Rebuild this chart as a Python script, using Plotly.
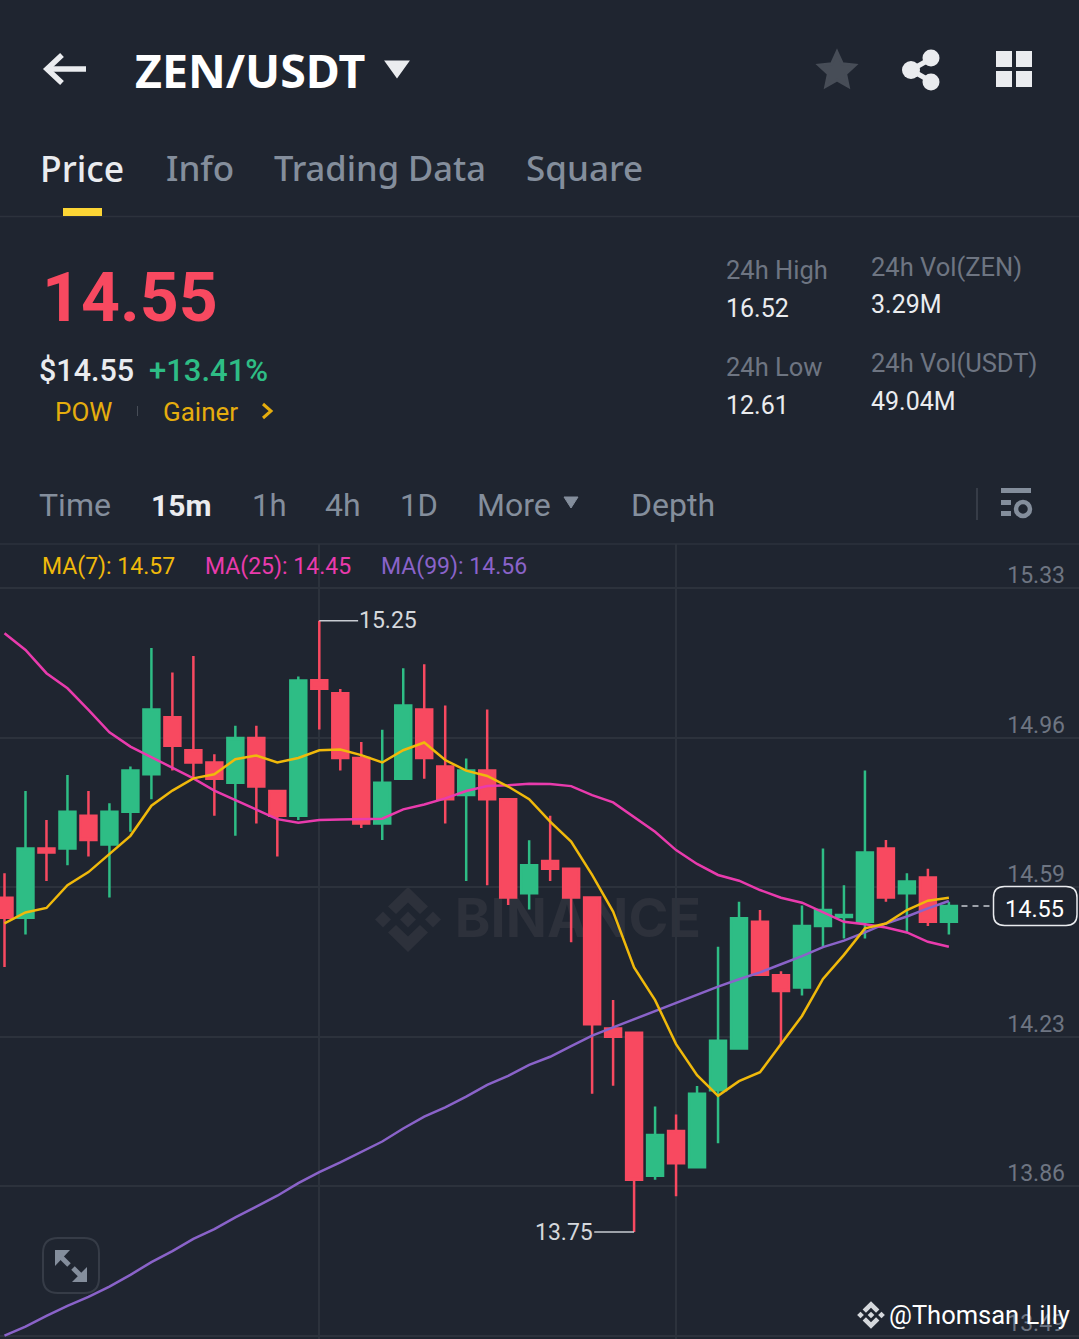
import math
import plotly.graph_objects as go

BG = "#1f2530"
GRID = "#2c323c"
GREEN = "#2ebd85"
RED = "#f84960"
GOLD = "#f0b90b"
PINK = "#e93bad"
PURPLE = "#8a63c9"
GRAY = "#848e9c"
DIM = "#6e7582"
LIGHT = "#eaecef"
FONT = "Roboto"

# candles, 15m
opens = [14.570, 14.521, 14.691, 14.691, 14.771, 14.701, 14.781, 14.873, 15.013, 14.932,
         14.902, 14.852, 14.962, 14.832, 14.771, 15.104, 15.072, 14.913, 14.752, 14.862,
         15.032, 14.892, 14.822, 14.882, 14.812, 14.581, 14.660, 14.641, 14.571, 14.249,
         14.239, 13.888, 13.998, 13.909, 14.098, 14.200, 14.511, 14.380, 14.350, 14.501,
         14.523, 14.511, 14.691, 14.581, 14.620, 14.511]
highs = [14.630, 14.832, 14.761, 14.871, 14.832, 14.802, 14.892, 15.183, 15.123, 15.163,
         14.922, 14.992, 14.992, 14.832, 15.113, 15.250, 15.082, 14.952, 14.982, 15.133,
         15.143, 15.042, 14.912, 15.032, 14.812, 14.711, 14.771, 14.641, 14.571, 14.319,
         14.239, 14.058, 14.038, 14.108, 14.450, 14.560, 14.540, 14.390, 14.551, 14.691,
         14.601, 14.882, 14.712, 14.630, 14.641, 14.560]
lows = [14.400, 14.480, 14.611, 14.650, 14.671, 14.571, 14.732, 14.812, 14.882, 14.863,
        14.771, 14.722, 14.752, 14.671, 14.761, 14.983, 14.882, 14.741, 14.712, 14.862,
        14.862, 14.752, 14.611, 14.601, 14.552, 14.541, 14.611, 14.461, 14.089, 14.109,
        13.750, 13.878, 13.838, 13.909, 13.968, 14.200, 14.381, 14.211, 14.330, 14.450,
        14.470, 14.470, 14.560, 14.483, 14.501, 14.480]
closes = [14.521, 14.691, 14.681, 14.781, 14.712, 14.781, 14.882, 15.032, 14.943, 14.902,
          14.862, 14.962, 14.843, 14.771, 15.103, 15.083, 14.913, 14.752, 14.852, 15.042,
          14.913, 14.812, 14.882, 14.812, 14.571, 14.650, 14.641, 14.571, 14.260, 14.229,
          13.878, 13.988, 13.919, 14.089, 14.219, 14.520, 14.381, 14.341, 14.501, 14.540,
          14.528, 14.681, 14.571, 14.610, 14.511, 14.550]

ma7 = [14.507, 14.534, 14.545, 14.601, 14.633, 14.678, 14.722, 14.796, 14.833, 14.863,
       14.873, 14.910, 14.919, 14.902, 14.913, 14.932, 14.934, 14.920, 14.902, 14.932,
       14.951, 14.908, 14.882, 14.869, 14.843, 14.812, 14.757, 14.708, 14.626, 14.536,
       14.399, 14.319, 14.211, 14.135, 14.084, 14.120, 14.142, 14.211, 14.280, 14.371,
       14.430, 14.495, 14.507, 14.540, 14.563, 14.570]
ma25 = [15.219, 15.178, 15.121, 15.084, 15.031, 14.976, 14.941, 14.915, 14.888, 14.863,
        14.833, 14.810, 14.787, 14.763, 14.754, 14.761, 14.762, 14.763, 14.764, 14.787,
        14.799, 14.814, 14.832, 14.844, 14.846, 14.850, 14.849, 14.844, 14.822, 14.804,
        14.769, 14.732, 14.687, 14.653, 14.626, 14.612, 14.589, 14.570, 14.558, 14.534,
        14.511, 14.505, 14.497, 14.485, 14.462, 14.450]
ma99 = [13.496, 13.518, 13.544, 13.569, 13.591, 13.616, 13.645, 13.676, 13.703, 13.733,
        13.757, 13.786, 13.812, 13.839, 13.870, 13.897, 13.921, 13.946, 13.972, 14.004,
        14.033, 14.056, 14.082, 14.111, 14.133, 14.160, 14.180, 14.206, 14.232, 14.252,
        14.272, 14.291, 14.311, 14.332, 14.352, 14.370, 14.387, 14.407, 14.427, 14.449,
        14.465, 14.485, 14.507, 14.524, 14.544, 14.562]

price_ticks = [15.33, 14.963, 14.596, 14.229, 13.862, 13.495]
price_labels = ["15.33", "14.96", "14.59", "14.23", "13.86", "13.49"]
time_ticks = [15, 32]
last_price = 14.55

candle_x = list(range(len(closes)))

fig = go.Figure()

# xy is a pixel canvas for the app chrome, x2/y2 holds the real chart on top of it
fig.add_trace(go.Scatter(x=[578], y=[923], mode="text", text=["BINANCE"], hoverinfo="skip",
                         textfont=dict(family="Inter", size=54, color="#2d313b", weight=700),
                         showlegend=False))

fig.add_trace(go.Candlestick(
    x=candle_x, open=opens, high=highs, low=lows, close=closes,
    xaxis="x2", yaxis="y2", hoverinfo="skip", showlegend=False,
    increasing=dict(line=dict(color=GREEN, width=2.5), fillcolor=GREEN),
    decreasing=dict(line=dict(color=RED, width=2.5), fillcolor=RED),
))
for vals, color in [(ma99, PURPLE), (ma25, PINK), (ma7, GOLD)]:
    fig.add_trace(go.Scatter(x=candle_x, y=vals, mode="lines", xaxis="x2", yaxis="y2",
                             line=dict(color=color, width=2.5), hoverinfo="skip", showlegend=False))

shapes = []
annotations = []


def label(text, x, y, size, color, anchor="left", weight=400, family=FONT):
    annotations.append(dict(text=text, x=x, y=y, xref="x", yref="y", showarrow=False,
                            xanchor=anchor, yanchor="middle", borderpad=0,
                            font=dict(family=family, size=size, color=color, weight=weight)))


def poly(points, fill, line_color=None, line_width=0, close=True, layer="above"):
    path = "M " + " L ".join(f"{px} {py}" for px, py in points) + (" Z" if close else "")
    shapes.append(dict(type="path", path=path, xref="x", yref="y", layer=layer,
                       fillcolor=fill, line=dict(color=line_color or fill, width=line_width)))


def hline(x0, x1, y, color=GRID, width=1.5):
    shapes.append(dict(type="line", x0=x0, x1=x1, y0=y, y1=y, xref="x", yref="y",
                       line=dict(color=color, width=width), layer="below"))


def round_rect(x0, y0, x1, y1, r, fill, color, width):
    path = (f"M {x0+r} {y0} L {x1-r} {y0} Q {x1} {y0} {x1} {y0+r} L {x1} {y1-r} "
            f"Q {x1} {y1} {x1-r} {y1} L {x0+r} {y1} Q {x0} {y1} {x0} {y1-r} "
            f"L {x0} {y0+r} Q {x0} {y0} {x0+r} {y0} Z")
    shapes.append(dict(type="path", path=path, xref="x", yref="y", fillcolor=fill,
                       line=dict(color=color, width=width)))


def circle(cx, cy, r, fill):
    shapes.append(dict(type="circle", x0=cx - r, x1=cx + r, y0=cy - r, y1=cy + r, xref="x", yref="y",
                       fillcolor=fill, line=dict(width=0)))


def binance_logo(cx, cy, s, color, layer="below"):
    chevron = [(0, 32.5), (20, 13), (12, 5.5), (0, 17), (-12, 5.5), (-20, 13)]
    poly([(cx + s * a, cy - s * b) for a, b in chevron], color, layer=layer)
    poly([(cx + s * a, cy + s * b) for a, b in chevron], color, layer=layer)
    for dx in (-25, 0, 25):
        poly([(cx + s * (dx - 8), cy), (cx + s * dx, cy - s * 8), (cx + s * (dx + 8), cy), (cx + s * dx, cy + s * 8)],
             color, layer=layer)


# header
poly([(62, 55), (47, 69), (62, 83)], "rgba(0,0,0,0)", LIGHT, 5.5, close=False)
poly([(47, 69), (86, 69)], "rgba(0,0,0,0)", LIGHT, 5.5, close=False)
label("ZEN/USDT", 134, 70, 46.5, "#ffffff", weight=700, family="Noto Sans")
poly([(387, 62), (407, 62), (397, 76)], LIGHT, LIGHT, 3)

star = []
for k in range(10):
    r = 19 if k % 2 == 0 else 9
    a = -math.pi / 2 + k * math.pi / 5
    star.append((round(837 + r * math.cos(a), 1), round(71 + r * math.sin(a), 1)))
poly(star, "#474d57", "#474d57", 3)

poly([(932, 58), (911, 70), (932, 82)], "rgba(0,0,0,0)", LIGHT, 5, close=False)
circle(911, 70, 9, LIGHT)
circle(931, 58, 8.5, LIGHT)
circle(931, 82, 8.5, LIGHT)
for x0, x1, y0, y1 in [(996, 1012, 51, 67), (1016, 1032, 51, 67), (996, 1012, 71, 87), (1016, 1032, 71, 87)]:
    shapes.append(dict(type="rect", x0=x0, x1=x1, y0=y0, y1=y1, xref="x", yref="y", fillcolor=LIGHT, line=dict(width=0)))

# tabs
label("Price", 39, 167.5, 35.5, LIGHT, weight=500, family="Noto Sans")
label("Info", 164.5, 167.5, 35, GRAY, weight=500, family="Noto Sans")
label("Trading Data", 272.5, 167.5, 34.5, GRAY, weight=500, family="Noto Sans")
label("Square", 524.5, 167.5, 35, GRAY, weight=500, family="Noto Sans")
shapes.append(dict(type="rect", x0=63, x1=102, y0=208, y1=216, xref="x", yref="y", fillcolor="#fcd535", line=dict(width=0)))
hline(0, 1079, 216.5)

# price block
label("14.55", 40.5, 298, 68, RED, weight=700)
label("$14.55", 38, 370, 30.5, LIGHT, weight=500)
label("+13.41%", 147.5, 370, 31, GREEN, weight=500)
label("POW", 54, 412, 26, "#e5ad0e")
hline(137, 138, 411, "#474d57", 10)
label("Gainer", 162, 412, 26, "#e5ad0e")
poly([(263, 404), (271, 411), (263, 418)], "rgba(0,0,0,0)", "#e5ad0e", 3, close=False)

label("24h High", 724.5, 270, 25.5, DIM)
label("16.52", 724.5, 308, 25, LIGHT)
label("24h Low", 724.5, 367, 25.5, DIM)
label("12.61", 724.5, 405, 25, LIGHT)
label("24h Vol(ZEN)", 869.5, 267, 25.5, DIM)
label("3.29M", 869.5, 304, 25, LIGHT)
label("24h Vol(USDT)", 869.5, 363, 25.5, DIM)
label("49.04M", 869.5, 401, 25, LIGHT)

# interval row
label("Time", 37.5, 505, 32, GRAY)
label("15m", 149.5, 505, 30, LIGHT, weight=700)
label("1h", 251, 505, 31, GRAY)
label("4h", 323.5, 505, 32, GRAY)
label("1D", 398.5, 505, 31, GRAY)
label("More", 476, 505, 32, GRAY)
poly([(564, 497), (578, 497), (571, 508)], GRAY, GRAY, 1)
label("Depth", 630, 505, 32, GRAY)
shapes.append(dict(type="line", x0=977, x1=977, y0=488, y1=520, xref="x", yref="y", line=dict(color="#363c47", width=2)))
shapes.append(dict(type="rect", x0=1001, x1=1031, y0=488, y1=493, xref="x", yref="y", fillcolor=GRAY, line=dict(width=0)))
for y0 in (500, 511):
    shapes.append(dict(type="rect", x0=1001, x1=1011, y0=y0, y1=y0 + 5, xref="x", yref="y", fillcolor=GRAY, line=dict(width=0)))
shapes.append(dict(type="circle", x0=1016, x1=1030, y0=502, y1=516, xref="x", yref="y", fillcolor=BG, line=dict(color=GRAY, width=4.5)))
hline(0, 1079, 544)

# legend values come from the last point of each average
label(f"MA(7): {ma7[-1]:.2f}", 41, 566, 23, GOLD)
label(f"MA(25): {ma25[-1]:.2f}", 204, 566, 23, PINK)
label(f"MA(99): {ma99[-1]:.2f}", 380, 566, 23, PURPLE)

# Binance logo behind the candles
binance_logo(408, 919.5, 1, "#2d313b")

# expand button
round_rect(43, 1238, 99, 1293, 15, "rgba(0,0,0,0)", "#363c47", 2)
poly([(55, 1250), (70, 1250), (55, 1266)], GRAY)
poly([(87, 1282), (72, 1282), (87, 1267)], GRAY)
poly([(60, 1256), (69, 1265)], "rgba(0,0,0,0)", GRAY, 5, close=False)
poly([(73, 1268), (82, 1277)], "rgba(0,0,0,0)", GRAY, 5, close=False)

# extremes, tied to the data
hi = max(highs)
lo = min(lows)
hi_i = highs.index(hi)
lo_i = lows.index(lo)
shapes.append(dict(type="line", xref="x2", yref="y2", x0=hi_i, x1=hi_i + 1.85, y0=hi, y1=hi, line=dict(color="#c8ccd2", width=1.5)))
shapes.append(dict(type="line", xref="x2", yref="y2", x0=lo_i - 1.9, x1=lo_i, y0=lo, y1=lo, line=dict(color="#c8ccd2", width=1.5)))
annotations.append(dict(text=f"{hi:.2f}", x=hi_i + 1.8, y=hi, xref="x2", yref="y2", showarrow=False, xanchor="left", yanchor="middle",
                        font=dict(family=FONT, size=23, color="#d5d8dc")))
annotations.append(dict(text=f"{lo:.2f}", x=lo_i - 1.85, y=lo, xref="x2", yref="y2", showarrow=False, xanchor="right", yanchor="middle",
                        font=dict(family=FONT, size=23, color="#d5d8dc")))

# last price tag
shapes.append(dict(type="line", xref="x2", yref="y2", x0=45.6, x1=47.1, y0=last_price, y1=last_price,
                   line=dict(color="#c8ccd2", width=1.5, dash="6px,5px")))
round_rect(993.5, 886.5, 1077, 925.5, 11, BG, LIGHT, 1.5)
label(f"{last_price:.2f}", 1065, 909, 23.5, "#ffffff", anchor="right")

# credit
binance_logo(871, 1315, 0.42, "#d5d8dc", layer="above")
label("@Thomsan Lilly", 887.5, 1315, 25.5, "#ffffff")

fig.update_layout(
    width=1079,
    height=1339,
    margin=dict(l=0, r=0, t=0, b=0),
    paper_bgcolor=BG,
    plot_bgcolor="rgba(0,0,0,0)",
    showlegend=False,
    boxgap=0.24,
    boxgroupgap=0,
    shapes=shapes,
    annotations=annotations,
    xaxis=dict(range=[0, 1079], domain=[0, 1], visible=False, fixedrange=True),
    yaxis=dict(range=[1339, 0], domain=[0, 1], visible=False, fixedrange=True),
    xaxis2=dict(domain=[0, 1], range=[-0.2145, 51.2], anchor="y2", rangeslider=dict(visible=False),
                tickvals=time_ticks, showticklabels=False, ticks="", showgrid=True, gridcolor=GRID, gridwidth=1.5, zeroline=False),
    yaxis2=dict(domain=[0, 795 / 1339], range=[13.4875, 15.438], anchor="x2", side="right",
                tickvals=price_ticks, ticktext=price_labels, ticklabelposition="inside", ticklabelshift=-13,
                ticklabelstandoff=11, ticks="", showgrid=True, gridcolor=GRID, gridwidth=1.5, zeroline=False,
                tickfont=dict(family=FONT, size=23, color=DIM)),
)

fig.write_html("out.html", config=dict(displayModeBar=False),
               post_script="document.body.style.margin='0';document.body.style.background='" + BG + "';")
